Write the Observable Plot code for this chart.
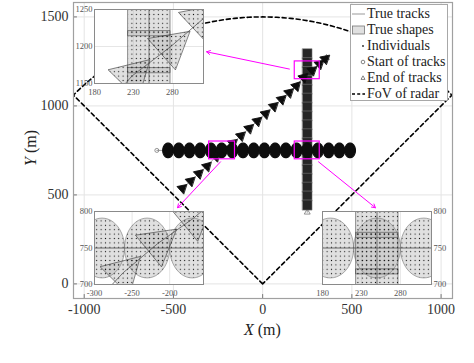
<!DOCTYPE html>
<html><head><meta charset="utf-8">
<script src="https://cdn.jsdelivr.net/npm/d3@7"></script>
<script src="https://cdn.jsdelivr.net/npm/@observablehq/plot@0.6"></script>
<style>
body{margin:0;background:#fff;}
#wrap{position:relative;width:474px;height:363px;overflow:hidden;font-family:"Liberation Serif","DejaVu Serif",serif;}
.lab{position:absolute;font-size:16px;color:#222;white-space:nowrap;line-height:16px;}
#legend{position:absolute;left:350px;top:4px;width:98px;height:97px;background:#fff;border:1px solid #a8a8a8;box-sizing:border-box;}
.row{position:absolute;left:0;width:96px;height:16px;line-height:16px;font-size:14px;color:#222;white-space:nowrap;}
.row svg{position:absolute;left:1px;top:0;}
.row span{position:absolute;left:16px;top:0;}
</style></head><body><div id="wrap"></div>
<script>
// ---------- data ----------
const xTicks = [-1000, -500, 0, 500, 1000];
const yTicks = [0, 500, 1000, 1500];
// track 1: horizontal, elliptical extended target
const ellipseX = [-530,-470,-410,-350,-290,-230,-170,-110,-50,10,70,130,190,250,310,370,430,490];
const ellipseY = [750,750,750,750,750,750,750,750,750,750,750,750,750,750,750,750,750,750];
// track 2: vertical, rectangular extended target
const rectX = [250,250,250,250,250,250,250,250,250,250,250,250,250,250,250,250,250,250];
const rectY = [1293,1243,1193,1143,1093,1043,993,943,893,843,793,743,693,643,593,543,493,443];
// track 3: diagonal, triangular extended target
const triX = [-450,-404,-358,-312,-262,-216,-168,-122,-76,-30,16,62,106,148,188,228,278,318,350];
const triY = [537,578,620,661,716,756,791,832,874,915,956,998,1037,1075,1112,1160,1200,1236,1264];
// start / end of tracks
const startX = [-593, 250, -450], startY = [750, 1293, 537];
const endX = [490, 250, 358], endY = [750, 402, 1270];
// radar field of view
const fovRadius = 1500, fovHalfAngle = 45;
// zoom windows (insets) and arrows to them
const zoomX = [[180,320],[-300,-155],[180,320]];
const zoomY = [[1150,1250],[700,800],[700,800]];
const zoomXTicks = [[180,230,280],[-300,-250,-200],[180,230,280]];
const zoomYTicks = [[1150,1200,1250],[700,750,800],[700,750,800]];
const arrowFrom = [[150,1207],[-236,686],[313,686]];
const arrowTo = [[-314,1304],[-477,428],[632,428]];
const legendLabels = ["True tracks","True shapes","Individuals","Start of tracks","End of tracks","FoV of radar"];

// shape sizes
const ERX = 30, ERY = 41, RW = 54, RH = 57, TSIDE = 55;

// ---------- geometry ----------
const ellPolys = [], rectPolys = [], triPolys = [];
ellipseX.forEach((cx, i) => {
  const cy = ellipseY[i];
  for (let k = 0; k < 48; k++) { const t = 2*Math.PI*k/48; ellPolys.push({id:"e"+i, x: cx+ERX*Math.cos(t), y: cy+ERY*Math.sin(t)}); }
});
rectX.forEach((cx, i) => {
  const cy = rectY[i];
  [[-1,-1],[1,-1],[1,1],[-1,1]].forEach(([a,b]) => rectPolys.push({id:"r"+i, x: cx+a*RW/2, y: cy+b*RH/2}));
});
triX.forEach((cx, i) => {
  const cy = triY[i];
  const p = Math.max(0, i-1), n = Math.min(triX.length-1, i+1);
  const a = Math.atan2(triY[n]-triY[p], triX[n]-triX[p]);
  const R = TSIDE/Math.sqrt(3);
  [0, 2*Math.PI/3, -2*Math.PI/3].forEach(o => triPolys.push({id:"t"+i, x: cx+R*Math.cos(a+o), y: cy+R*Math.sin(a+o)}));
});
const tracks = [];
tracks.push({id:"h", x:startX[0], y:startY[0]}, {id:"h", x:endX[0], y:endY[0]});
tracks.push({id:"v", x:startX[1], y:startY[1]}, {id:"v", x:endX[1], y:endY[1]});
triX.forEach((x,i)=>tracks.push({id:"d", x, y:triY[i]}));
tracks.push({id:"d", x:endX[2], y:endY[2]});
const starts = startX.map((x,i)=>({x, y:startY[i]}));
const ends = endX.map((x,i)=>({x, y:endY[i]}));
const fov = [{x:0,y:0}];
for (let a = 90+fovHalfAngle; a >= 90-fovHalfAngle; a -= 1) fov.push({x: fovRadius*Math.cos(a*Math.PI/180), y: fovRadius*Math.sin(a*Math.PI/180)});
fov.push({x:0,y:0});
const boxes = zoomX.map((xd,i)=>({x1:xd[0], x2:xd[1], y1:zoomY[i][0], y2:zoomY[i][1]}));
const arrows = arrowFrom.map((f,i)=>({x1:f[0], y1:f[1], x2:arrowTo[i][0], y2:arrowTo[i][1]}));

const xDomain = [-1060, 1064], yDomain = [-82, 1581];
const wrap = document.getElementById("wrap");
const SERIF = '"Liberation Serif", "DejaVu Serif", serif';

const main = Plot.plot({
  width: 474, height: 363,
  marginLeft: 73, marginRight: 22, marginTop: 2, marginBottom: 65,
  x: {domain: xDomain, ticks: xTicks, tickFormat: d => String(d), tickSize: 0, tickPadding: 6, label: null},
  y: {domain: yDomain, ticks: yTicks, tickFormat: d => String(d), tickSize: 0, tickPadding: 5, label: null},
  style: {fontFamily: SERIF, fontSize: "14px", color: "#333", background: "white"},
  marks: [
    Plot.ruleX(xTicks, {stroke: "#e4e4e4"}),
    Plot.ruleY(yTicks, {stroke: "#e4e4e4"}),
    Plot.ruleX(xTicks, {x: d => d, y1: yDomain[0], y2: yDomain[0] + 22, stroke: "#777"}),
    Plot.ruleY(yTicks, {y: d => d, x1: xDomain[0], x2: xDomain[0] + 22, stroke: "#777"}),
    Plot.line(fov, {x: "x", y: "y", stroke: "#000", strokeWidth: 1.6, strokeDasharray: "4,3", clip: true}),
    Plot.line(tracks, {x: "x", y: "y", z: "id", stroke: "#888", strokeWidth: 0.8}),
    Plot.dot(starts, {x: "x", y: "y", r: 2, stroke: "#777", fill: "none", strokeWidth: 0.8}),
    Plot.dot(ends, {x: "x", y: "y", r: 2.2, symbol: "triangle", stroke: "#777", fill: "none", strokeWidth: 0.8}),
    Plot.line(rectPolys, {x: "x", y: "y", z: "id", fill: "#262626", stroke: "#8c8c8c", strokeWidth: 0.5, curve: "linear-closed"}),
    Plot.line(ellPolys, {x: "x", y: "y", z: "id", fill: "#0d0d0d", stroke: "#0d0d0d", strokeWidth: 1.2, curve: "linear-closed"}),
    Plot.line(triPolys, {x: "x", y: "y", z: "id", fill: "#0d0d0d", stroke: "#0d0d0d", strokeWidth: 0.9, curve: "linear-closed"}),
    Plot.rect(boxes, {x1: "x1", x2: "x2", y1: "y1", y2: "y2", stroke: "#f0f", fill: "none", strokeWidth: 1.2}),
    Plot.arrow(arrows, {x1: "x1", y1: "y1", x2: "x2", y2: "y2", stroke: "#f0f", strokeWidth: 1, headLength: 6}),
    Plot.frame({stroke: "#a0a0a0", strokeWidth: 1.2})
  ]
});
wrap.appendChild(main);

// ---------- insets ----------
const insetFrames = [{l:94,t:9,h:74,right:false},{l:94,t:211,h:73,right:false},{l:322,t:211,h:73,right:true}];
function addPattern(svg, id) {
  const ns = "http://www.w3.org/2000/svg";
  const defs = document.createElementNS(ns, "defs");
  const p = document.createElementNS(ns, "pattern");
  p.setAttribute("id", id); p.setAttribute("patternUnits", "userSpaceOnUse");
  p.setAttribute("width", "4.4"); p.setAttribute("height", "4.4");
  const c = document.createElementNS(ns, "circle");
  c.setAttribute("cx", "2.2"); c.setAttribute("cy", "2.2"); c.setAttribute("r", "0.6"); c.setAttribute("fill", "#111");
  p.appendChild(c); defs.appendChild(p); svg.insertBefore(defs, svg.firstChild);
  svg.querySelectorAll('[fill="#010203"]').forEach(el => el.setAttribute("fill", `url(#${id})`));
}
insetFrames.forEach((f, i) => {
  const mL = f.right ? 2 : 22, mR = f.right ? 22 : 2, mT = 6, mB = 14, fw = 109;
  const marks = [Plot.frame({fill: "white"}),
    Plot.ruleX(zoomXTicks[i], {stroke: "#e6e6e6"}),
    Plot.ruleY(zoomYTicks[i], {stroke: "#e6e6e6"})];
  [rectPolys, ellPolys, triPolys].forEach(P => {
    marks.push(Plot.line(P, {x: "x", y: "y", z: "id", fill: "#bbb", fillOpacity: 0.45, stroke: "none", curve: "linear-closed", clip: true}));
  });
  [rectPolys, ellPolys, triPolys].forEach(P => {
    marks.push(Plot.line(P, {x: "x", y: "y", z: "id", fill: "#010203", stroke: "none", curve: "linear-closed", clip: true}));
  });
  marks.push(Plot.line(rectPolys, {x: "x", y: "y", z: "id", fill: "none", stroke: "#444", strokeWidth: 0.6, curve: "linear-closed", clip: true}));
  marks.push(Plot.line(ellPolys, {x: "x", y: "y", z: "id", fill: "none", stroke: "#777", strokeWidth: 0.6, curve: "linear-closed", clip: true}));
  marks.push(Plot.line(triPolys, {x: "x", y: "y", z: "id", fill: "none", stroke: "#333", strokeWidth: 0.6, curve: "linear-closed", clip: true}));
  marks.push(Plot.line(tracks, {x: "x", y: "y", z: "id", stroke: "#555", strokeWidth: 0.8, clip: true}));
  marks.push(Plot.frame({stroke: "#8a8a8a"}));
  const svg = Plot.plot({
    width: fw + mL + mR, height: f.h + mT + mB,
    marginLeft: mL, marginRight: mR, marginTop: mT, marginBottom: mB,
    x: {domain: zoomX[i], ticks: zoomXTicks[i], tickFormat: d => String(d), tickSize: 0, tickPadding: 5, label: null},
    y: {domain: zoomY[i], ticks: zoomYTicks[i], tickFormat: d => String(d), tickSize: 0, tickPadding: 2, label: null, axis: f.right ? "right" : "left"},
    style: {fontFamily: SERIF, fontSize: "8.5px", color: "#555", background: "transparent", overflow: "visible"},
    marks
  });
  addPattern(svg, "dots" + i);
  svg.style.position = "absolute";
  svg.style.left = (f.l - mL) + "px";
  svg.style.top = (f.t - mT) + "px";
  wrap.appendChild(svg);
});

// ---------- axis labels ----------
const xl = document.createElement("div");
xl.className = "lab"; xl.innerHTML = "<i>X</i> (m)";
xl.style.left = "244px"; xl.style.top = "322px";
wrap.appendChild(xl);
const yl = document.createElement("div");
yl.className = "lab"; yl.innerHTML = "<i>Y</i> (m)";
yl.style.left = "13px"; yl.style.top = "140px"; yl.style.transform = "rotate(-90deg)";
wrap.appendChild(yl);

// ---------- legend ----------
const icons = [
  '<line x1="0" y1="8" x2="13" y2="8" stroke="#999" stroke-width="1"/>',
  '<rect x="0.5" y="4" width="12" height="8" fill="#e0e0e0" stroke="#777" stroke-width="0.8"/>',
  '<circle cx="11" cy="8" r="0.9" fill="#222"/>',
  '<circle cx="11" cy="8" r="1.8" fill="none" stroke="#666" stroke-width="0.8"/>',
  '<path d="M11,5.8 L13,9.4 L9,9.4 Z" fill="none" stroke="#666" stroke-width="0.8"/>',
  '<line x1="0" y1="8" x2="13" y2="8" stroke="#000" stroke-width="1.6" stroke-dasharray="3,2.2"/>'
];
const leg = document.createElement("div");
leg.id = "legend";
legendLabels.forEach((t, k) => {
  const r = document.createElement("div");
  r.className = "row"; r.style.top = (0.5 + 16*k) + "px";
  r.innerHTML = `<svg width="14" height="16">${icons[k]}</svg><span>${t}</span>`;
  leg.appendChild(r);
});
wrap.appendChild(leg);
</script></body></html>
